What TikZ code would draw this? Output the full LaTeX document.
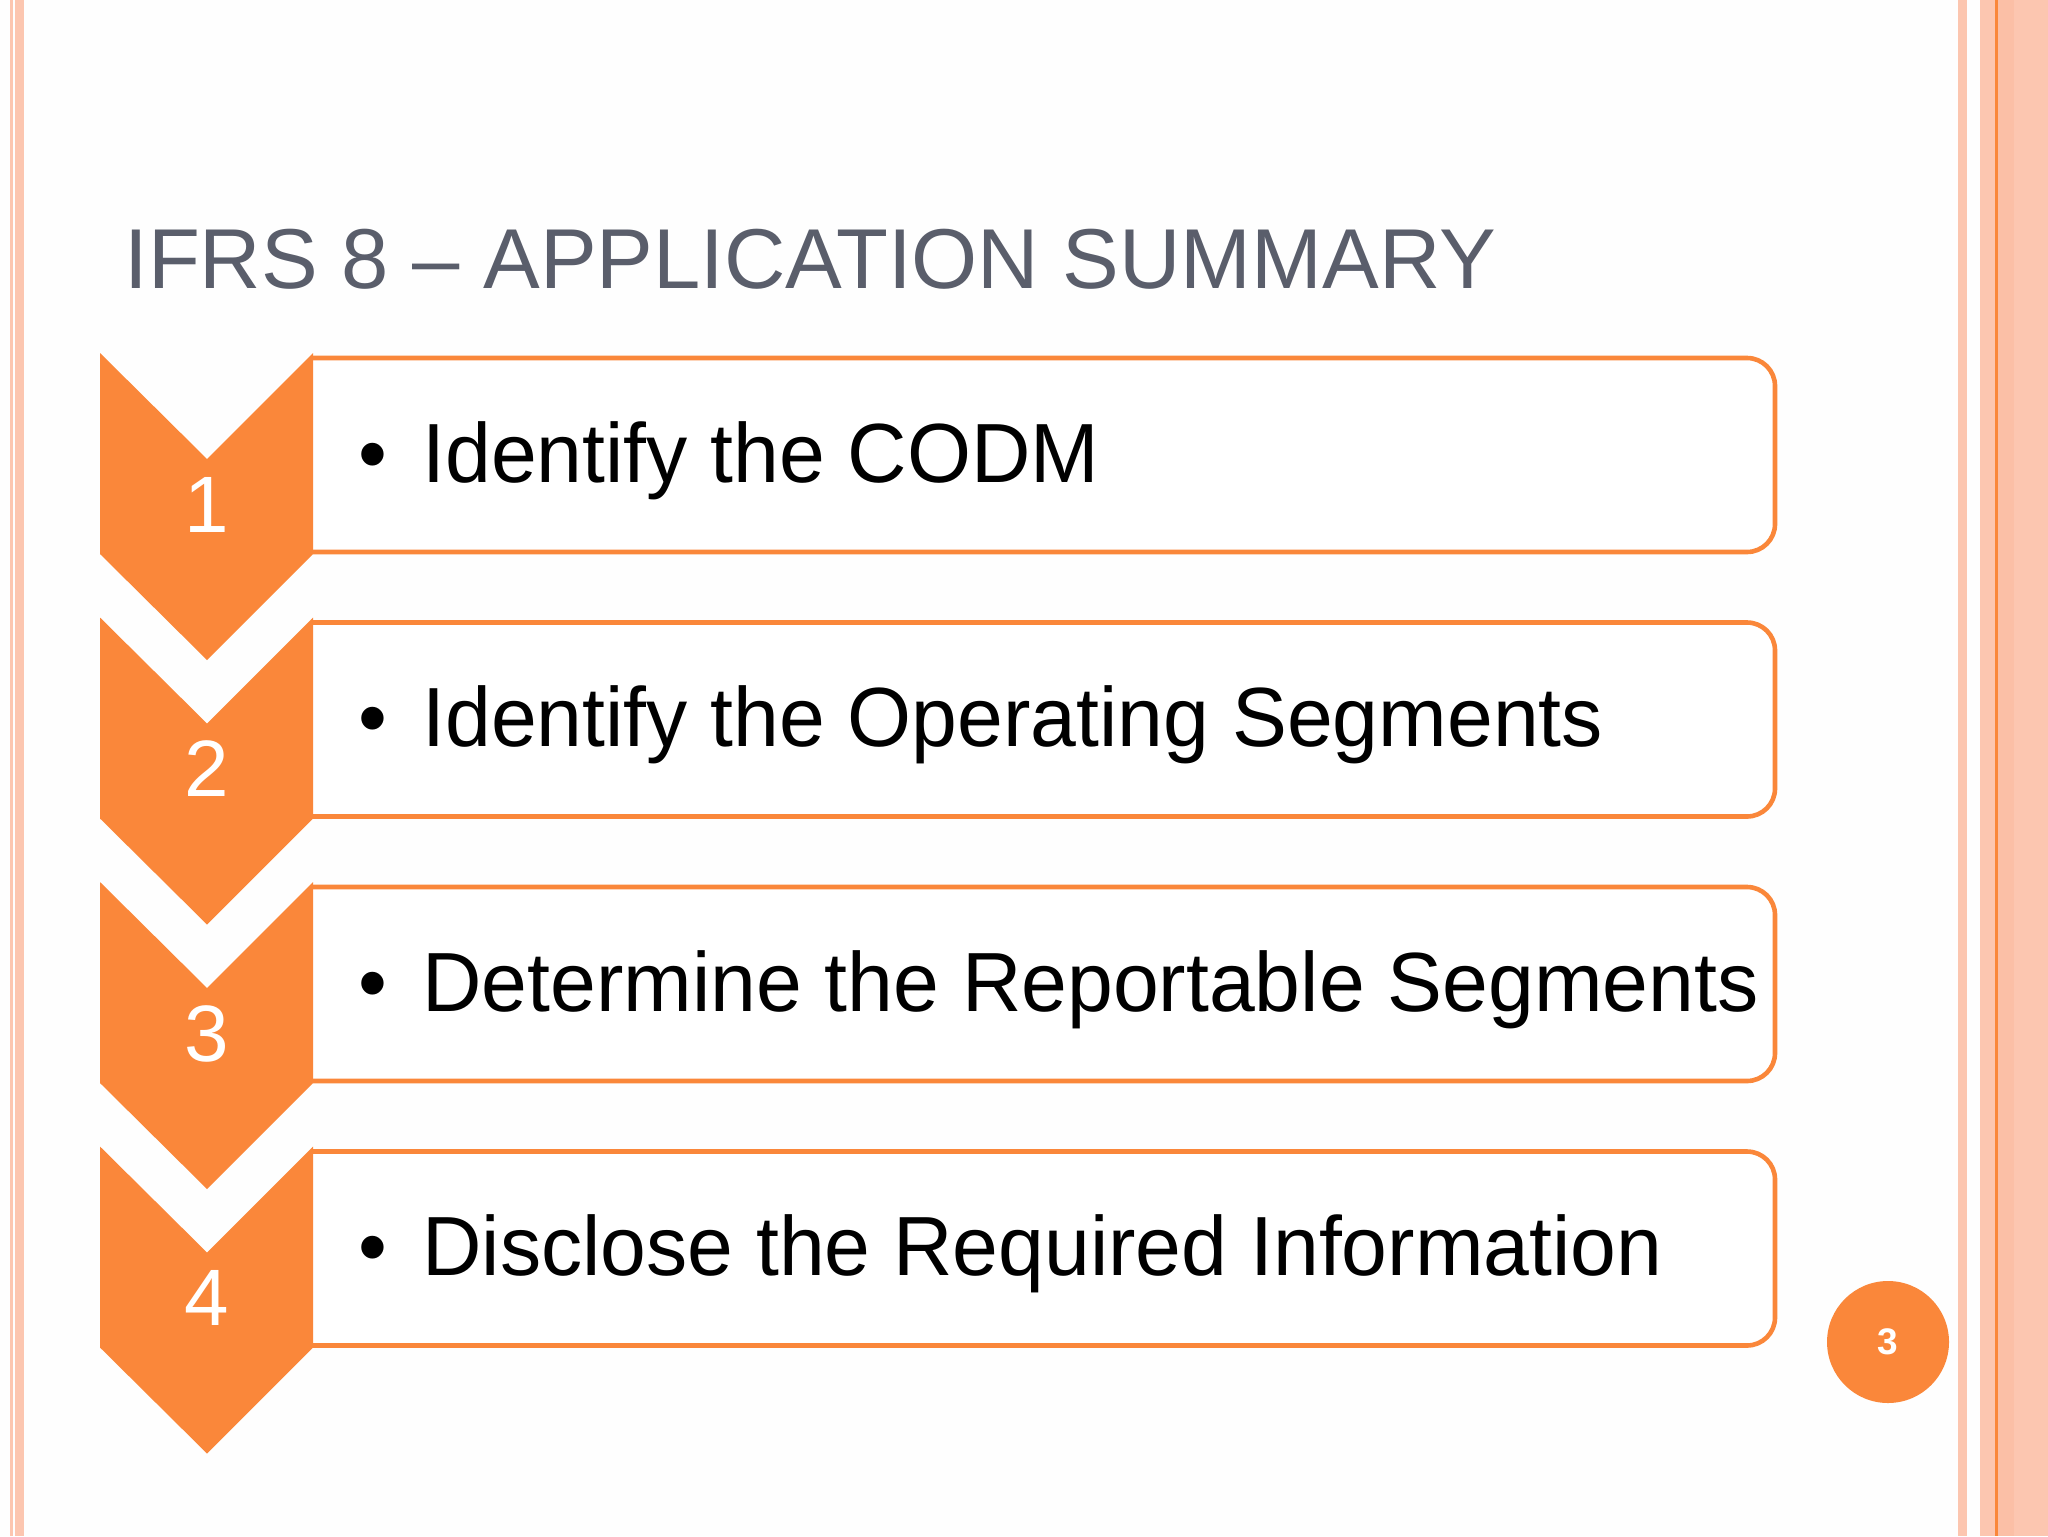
\documentclass[tikz,border=0pt]{standalone}
\usepackage{fontspec}
\setmainfont{Liberation Sans}
\newfontfamily\stepfont[FakeStretch=0.98]{Liberation Sans}
\definecolor{org}{HTML}{FA873A}
\definecolor{salmon}{HTML}{FCC6B0}
\definecolor{salmonB}{HTML}{FBBFA6}
\definecolor{titlegray}{HTML}{5A5E6B}
\tikzset{
  chev/.style={fill=org, draw=none},
  stepframe/.style={draw=org, line width=2.3pt, fill=white, rounded corners=14pt},
  numtext/.style={text=white, font=\fontsize{40}{46}\selectfont, inner sep=0pt, anchor=base},
  bodytext/.style={text=black, font=\stepfont\fontsize{42}{48}\selectfont, inner sep=0pt, anchor=base west},
}
\begin{document}
\begin{tikzpicture}[x=0.5pt,y=-0.5pt]
\useasboundingbox (0,0) rectangle (2048,1536);
\fill[white!99!gray] (0,0) rectangle (2048,1536);
% left border stripes
\fill[salmon] (10,0) rectangle (13,1536);
\fill[salmon] (15,0) rectangle (24,1536);
% right border
\fill[salmon] (1958,0) rectangle (1967,1536);
\fill[salmon] (1980,0) rectangle (2048,1536);
\fill[salmonB] (1998,0) rectangle (2014,1536);
\fill[org] (1995,0) rectangle (1998,1536);
% title
\node[text=titlegray, font=\fontsize{42.5}{50}\selectfont, inner sep=0pt, anchor=base west] (title) at (124,288) {IFRS 8 – APPLICATION SUMMARY};
% steps
\foreach \i/\txt in {1/Identify the CODM, 2/Identify the Operating Segments, 3/Determine the Reportable Segments, 4/Disclose the Required Information}{
  \pgfmathsetmacro{\yo}{353+264.5*(\i-1)}
  \pgfmathsetmacro{\bt}{\yo+5}
  \pgfmathsetmacro{\bb}{\yo+199}
  \draw[stepframe] (313,\bt) -- (1775,\bt) -- (1775,\bb) -- (313,\bb);
  \fill[chev] (100,\yo) -- (207,\yo+106) -- (313,\yo) -- (313,\yo+201) -- (207,\yo+307) -- (100,\yo+201) -- cycle;
  \node[numtext] (num\i) at (207,\yo+179) {\i};
  \node[bodytext] (bul\i) at (358,\yo+129) {•};
  \node[bodytext] (txt\i) at (422,\yo+129) {\txt};
}
% page number
\node[circle, fill=org, minimum size=61pt, inner sep=0pt, text=white, font=\bfseries\fontsize{18.5}{20}\selectfont] (page) at (1888,1342) {3};
\end{tikzpicture}
\end{document}
